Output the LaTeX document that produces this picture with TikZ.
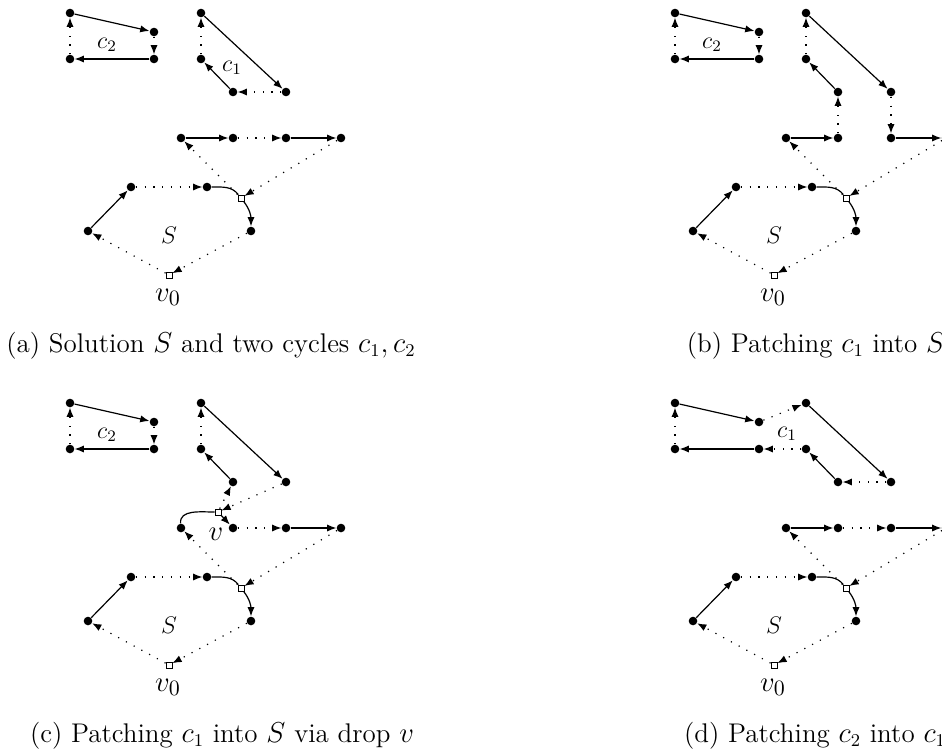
\documentclass[tikz,border=0pt]{standalone}
\usetikzlibrary{arrows.meta}

\tikzset{
  vertex/.style={circle,fill=black,inner sep=0pt,minimum size=4.3pt},
  depot/.style={rectangle,draw=black,fill=white,line width=0.4pt,inner sep=0pt,minimum size=3pt},
  plain/.style={line width=0.6pt},
  arc/.style={plain,-{Latex[length=4.6pt,width=3.6pt]}},
  skip/.style={arc,dash pattern=on 0.6pt off 3.8pt},
  tag/.style={inner sep=0pt,font=\fontsize{12}{14}\selectfont},
  big/.style={inner sep=0pt,font=\fontsize{15}{18}\selectfont},
  caption/.style={inner sep=0pt,anchor=base,font=\fontsize{13.5}{16}\selectfont},
}

% vertices of the two cycles, the path row and the solution, prefixed per panel
\newcommand{\placenodes}[1]{%
  \node[vertex] (#1p1) at (70,13) {};
  \node[vertex] (#1p2) at (154,32) {};
  \node[vertex] (#1p3) at (154,59) {};
  \node[vertex] (#1p4) at (70,59) {};
  \node[vertex] (#1q1) at (201,13) {};
  \node[vertex] (#1q2) at (201,59) {};
  \node[vertex] (#1q3) at (233,92) {};
  \node[vertex] (#1q4) at (286,92) {};
  \node[vertex] (#1r1) at (181,138) {};
  \node[vertex] (#1r2) at (233,138) {};
  \node[vertex] (#1r3) at (286,138) {};
  \node[vertex] (#1r4) at (341,138) {};
  \node[vertex] (#1s1) at (88,231) {};
  \node[vertex] (#1s2) at (131,187) {};
  \node[vertex] (#1s3) at (207,187) {};
  \node[vertex] (#1s4) at (251,231) {};
  \node[depot] (#1u) at (241,198) {};
  \node[depot] (#1v0) at (169,275) {};
  \node[tag] (#1Slabel) at (169,235) {$S$};
  \node[big] (#1v0label) at (168,297) {$v_0$};
}

% the solution tour S, same in every panel
\newcommand{\solution}[1]{%
  \draw[arc] (#1s1) -- (#1s2);
  \draw[skip] (#1s2) -- (#1s3);
  \draw[plain] (#1s3) to[out=0,in=128] (#1u);
  \draw[arc] (#1u) to[out=-52,in=90] (#1s4);
  \draw[skip] (#1s4) -- (#1v0);
  \draw[skip] (#1v0) -- (#1s1);
  \draw[skip] (#1u) -- (#1r1);
  \draw[skip] (#1r4) -- (#1u);
}

\begin{document}
\begin{tikzpicture}[x=0.5pt,y=-0.5pt]
  \useasboundingbox (0,0) rectangle (942,751);
  \clip (0,0) rectangle (942,751);

  % (a)
  \begin{scope}
    \placenodes{a}
    \solution{a}
    \draw[arc] (ap1) -- (ap2);
    \draw[skip] (ap2) -- (ap3);
    \draw[arc] (ap3) -- (ap4);
    \draw[skip] (ap4) -- (ap1);
    \node[tag] (ac2) at (107,45) {$c_2$};
    \draw[arc] (aq1) -- (aq4);
    \draw[skip] (aq4) -- (aq3);
    \draw[arc] (aq3) -- (aq2);
    \draw[skip] (aq2) -- (aq1);
    \node[tag] (ac1) at (232,68) {$c_1$};
    \draw[arc] (ar1) -- (ar2);
    \draw[skip] (ar2) -- (ar3);
    \draw[arc] (ar3) -- (ar4);
    \node[caption] (acap) at (211,352) {(a) Solution $S$ and two cycles $c_1, c_2$};
  \end{scope}

  % (b)
  \begin{scope}[shift={(605,0)}]
    \placenodes{b}
    \solution{b}
    \draw[arc] (bp1) -- (bp2);
    \draw[skip] (bp2) -- (bp3);
    \draw[arc] (bp3) -- (bp4);
    \draw[skip] (bp4) -- (bp1);
    \node[tag] (bc2) at (107,45) {$c_2$};
    \draw[arc] (bq1) -- (bq4);
    \draw[skip] (bq4) -- (br3);
    \draw[arc] (br3) -- (br4);
    \draw[arc] (br1) -- (br2);
    \draw[skip] (br2) -- (bq3);
    \draw[arc] (bq3) -- (bq2);
    \draw[skip] (bq2) -- (bq1);
    \node[caption] (bcap) at (211,352) {(b) Patching $c_1$ into $S$};
  \end{scope}

  % (c)
  \begin{scope}[shift={(0,390)}]
    \placenodes{c}
    \solution{c}
    \draw[arc] (cp1) -- (cp2);
    \draw[skip] (cp2) -- (cp3);
    \draw[arc] (cp3) -- (cp4);
    \draw[skip] (cp4) -- (cp1);
    \node[tag] (cc2) at (107,45) {$c_2$};
    \node[depot] (cv) at (218,122) {};
    \node[big] (cvlabel) at (216,144) {$v$};
    \draw[arc] (cq1) -- (cq4);
    \draw[skip] (cq4) -- (cv);
    \draw[skip] (cv) -- (cq3);
    \draw[arc] (cq3) -- (cq2);
    \draw[skip] (cq2) -- (cq1);
    \draw[plain] (cr1) to[out=95,in=180] (cv);
    \draw[arc] (cv) -- (cr2);
    \draw[skip] (cr2) -- (cr3);
    \draw[arc] (cr3) -- (cr4);
    \node[caption] (ccap) at (222,352) {(c) Patching $c_1$ into $S$ via drop $v$};
  \end{scope}

  % (d)
  \begin{scope}[shift={(605,390)}]
    \placenodes{d}
    \solution{d}
    \draw[arc] (dp1) -- (dp2);
    \draw[skip] (dp2) -- (dq1);
    \draw[arc] (dq1) -- (dq4);
    \draw[skip] (dq4) -- (dq3);
    \draw[arc] (dq3) -- (dq2);
    \draw[skip] (dq2) -- (dp3);
    \draw[arc] (dp3) -- (dp4);
    \draw[skip] (dp4) -- (dp1);
    \node[tag] (dc1) at (182,44) {$c_1$};
    \draw[arc] (dr1) -- (dr2);
    \draw[skip] (dr2) -- (dr3);
    \draw[arc] (dr3) -- (dr4);
    \node[caption] (dcap) at (210,352) {(d) Patching $c_2$ into $c_1$};
  \end{scope}
\end{tikzpicture}
\end{document}
